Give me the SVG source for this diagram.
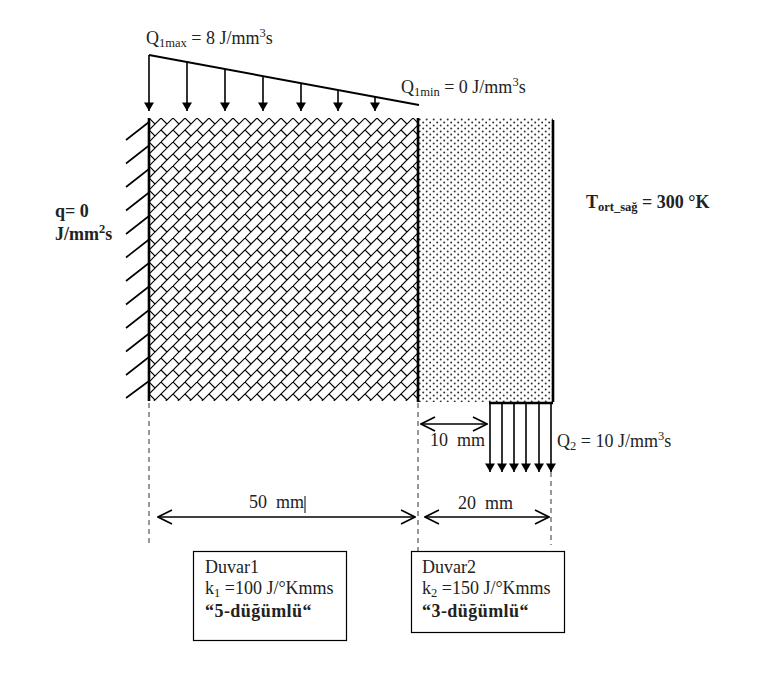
<svg xmlns="http://www.w3.org/2000/svg" width="766" height="683" viewBox="0 0 766 683">
<style>
text{font-family:"Liberation Serif","Times New Roman",serif;font-size:18px;fill:#222}
.b{font-weight:bold}
.n{letter-spacing:.45px}
.s{font-size:12.500px}
.l{stroke:#000;fill:none;stroke-width:1.6}
.w{stroke:#000;fill:none;stroke-width:2}
.t{stroke:#000;fill:none;stroke-width:2.600}
.d{stroke:#333;fill:none;stroke-width:1;stroke-dasharray:5 4}
.a{stroke:#000;fill:none;stroke-width:1.600;marker-end:url(#h2)}
.o{stroke:#000;fill:none;stroke-width:1.600;marker-end:url(#o);marker-start:url(#os)}
.box{fill:#fff;stroke:#000;stroke-width:1.200}
</style>
<defs>
<marker id="o" markerUnits="userSpaceOnUse" markerWidth="16" markerHeight="16" refX="15" refY="8" orient="auto" viewBox="0 0 16 16"><path d="M1 1L15 8L1 15" fill="none" stroke="#000" stroke-width="1.600"/></marker>
<marker id="os" markerUnits="userSpaceOnUse" markerWidth="16" markerHeight="16" refX="1" refY="8" orient="auto" viewBox="0 0 16 16"><path d="M15 1L1 8L15 15" fill="none" stroke="#000" stroke-width="1.600"/></marker>
<marker id="h2" markerUnits="userSpaceOnUse" markerWidth="10" markerHeight="10" refX="5" refY="9" orient="0" viewBox="0 0 10 10"><path d="M0 0.500H10L5 9Z" fill="#000"/></marker>
<pattern id="brick" patternUnits="userSpaceOnUse" x="149" y="118" width="24" height="24"><path d="M0 12L12 0M0 24L24 0M12 24L24 12M0 0L6 6M12 12L18 18M12 0L18 6M0 12L6 18" stroke="#000" stroke-width="1.100" fill="none"/></pattern>
<pattern id="dots" patternUnits="userSpaceOnUse" x="418" y="118" width="7" height="6"><circle cx="1.700" cy="1.500" r="1" fill="#333"/><circle cx="5.200" cy="4.500" r="1" fill="#333"/></pattern>
</defs>
<rect width="766" height="683" fill="#fff"/>
<g id="wall1"><rect x="149" y="118" width="269" height="283" fill="url(#brick)"/></g>
<g id="wall2"><rect x="418" y="118" width="135" height="284" fill="url(#dots)"/></g>
<g id="connectors">
<path class="t" d="M149 118V401M418 118V402M553 120V402"/>
<path class="w" d="M149 55L419 105"/>
<path class="a" d="M149 55V111"/>
<path class="a" d="M187 62V111"/>
<path class="a" d="M225 69V111"/>
<path class="a" d="M263 77V111"/>
<path class="a" d="M301 84V111"/>
<path class="a" d="M338 90V111"/>
<path class="a" d="M375 97V111"/>
<path class="l" d="M149 122L126 140M149 145.500L126 163.500M149 169L126 187M149 192.500L126 210.500M149 216L126 234M149 239.500L126 257.500M149 263L126 281M149 286.500L126 304.500M149 310L126 328M149 333.500L126 351.500M149 357L126 375M149 381L126 398"/>
<path class="t" d="M489 403H553"/>
<path class="a" d="M490 403V472"/>
<path class="a" d="M502 403V472"/>
<path class="a" d="M514 403V472"/>
<path class="a" d="M526 403V472"/>
<path class="a" d="M539 403V472"/>
<path class="a" d="M551 403V472"/>
<path class="d" d="M149 403V545M418 403V552M551 472V545"/>
<path class="o" d="M421 424H487"/>
<path class="o" d="M158 517H415"/>
<path class="o" d="M425 517H549"/>
<path d="M305 496V513" stroke="#000" stroke-width="1"/>
</g>
<text x="146" y="44">Q<tspan class="s" dy="3">1max</tspan><tspan dy="-3"> = 8 J/mm</tspan><tspan class="s" dy="-7">3</tspan><tspan dy="7">s</tspan></text>
<text x="401" y="93">Q<tspan class="s" dy="3">1min</tspan><tspan dy="-3"> = 0 J/mm</tspan><tspan class="s" dy="-7">3</tspan><tspan dy="7">s</tspan></text>
<text class="b" x="55" y="217">q= 0</text>
<text class="b" x="55" y="240">J/mm<tspan class="s" dy="-7">2</tspan><tspan dy="7">s</tspan></text>
<text class="b" x="586" y="208">T<tspan class="s" dy="3">ort_sağ</tspan><tspan dy="-3"> = 300 °K</tspan></text>
<text x="430" y="446" xml:space="preserve">10  mm</text>
<text x="557" y="447">Q<tspan class="s" dy="3">2</tspan><tspan dy="-3"> = 10 J/mm</tspan><tspan class="s" dy="-7">3</tspan><tspan dy="7">s</tspan></text>
<text x="249" y="508" xml:space="preserve">50  mm</text>
<text x="458" y="509" xml:space="preserve">20  mm</text>
<g id="box1"><rect class="box" x="193.500" y="551.500" width="153" height="89"/>
<text x="205" y="573">Duvar1</text>
<text x="205" y="594">k<tspan class="s" dy="3">1</tspan><tspan dy="-3"> =100 J/°Kmms</tspan></text>
<text class="b n" x="205" y="617">“5-düğümlü“</text></g>
<g id="box2"><rect class="box" x="411.500" y="551.500" width="153" height="81"/>
<text x="422" y="573">Duvar2</text>
<text x="422" y="594">k<tspan class="s" dy="3">2</tspan><tspan dy="-3"> =150 J/°Kmms</tspan></text>
<text class="b n" x="422" y="617">“3-düğümlü“</text></g>
</svg>
